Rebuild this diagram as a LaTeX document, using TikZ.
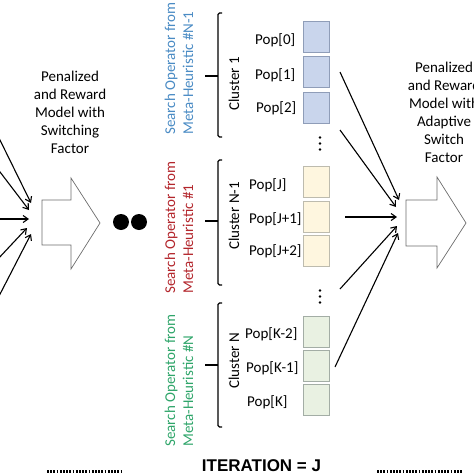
\documentclass[tikz,border=0pt]{standalone}
\usepackage{fontspec}
\setmainfont{Carlito}
\newfontfamily\iterfont{Liberation Sans}
\usetikzlibrary{arrows.meta}
\definecolor{bluefill}{HTML}{C9D5EC}
\definecolor{blueline}{HTML}{8F9DB8}
\definecolor{yelfill}{HTML}{FEF6DF}
\definecolor{yelline}{HTML}{BDBBAE}
\definecolor{grnfill}{HTML}{E9F1E2}
\definecolor{grnline}{HTML}{A3ADA5}
\definecolor{txtblue}{HTML}{4A8BC4}
\definecolor{txtred}{HTML}{B3262C}
\definecolor{txtgreen}{HTML}{2FA56A}
\tikzset{
  every node/.style={font=\fontsize{15}{18}\selectfont, inner sep=0pt},
  cell/.style={draw=#1line, fill=#1fill, line width=0.9pt, minimum width=26pt, minimum height=31pt},
  poplabel/.style={anchor=west},
  clusterlabel/.style={rotate=90},
  oplabel/.style={rotate=90, anchor=west, align=left, text=#1},
  bigarrow/.style={draw=gray!85!black, line width=0.7pt},
  conn/.style={line width=1.1pt, -{Straight Barb[length=5pt,width=7pt]}},
  brace/.style={line width=1.3pt, rounded corners=1.5pt},
  smalldot/.style={circle, fill=black, minimum size=2.6pt},
  bigdot/.style={circle, fill=black, minimum size=16pt},
  dotline/.style={line width=3pt, dash pattern=on 1.8pt off 1.4pt}
}
\begin{document}
\begin{tikzpicture}[x=1pt,y=-1pt]
\useasboundingbox (0,0) rectangle (474,474);
\clip (0,0) rectangle (474,474);

% model texts
\node[align=center] (leftmodel) at (70,112) {Penalized\\and Reward\\Model with\\Switching\\Factor};
\node[align=center] (rightmodel) at (444,112) {Penalized\\and Reward\\Model with\\Adaptive\\Switch\\Factor};

% hollow arrows
\draw[bigarrow] (42,200) -- (71,200) -- (71,178) -- (100,223) -- (71,269) -- (71,245) -- (42,245) -- cycle;
\draw[bigarrow] (406,200) -- (437,200) -- (437,177) -- (466,223) -- (437,268) -- (437,246) -- (406,246) -- cycle;

% big dots
\node[bigdot] (d1) at (121,222) {};
\node[bigdot] (d2) at (139,222) {};

% left incoming arrows
\coordinate (ls1) at (-3,134);
\coordinate (ls2) at (-3,168);
\coordinate (ls3) at (-3,219);
\coordinate (ls4) at (-3,260);
\coordinate (ls5) at (-3,300);
\coordinate (lt1) at (31,203);
\coordinate (lt2) at (29,210);
\coordinate (lt3) at (29,219);
\coordinate (lt4) at (27,228);
\coordinate (lt5) at (31,234);
\foreach \i in {1,...,5} \draw[conn] (ls\i) -- (lt\i);

% operator labels
\node[oplabel=txtblue] (op1) at (179,135) {Search Operator from\\Meta-Heuristic \#N-1};
\node[oplabel=txtred] (op2) at (179,294) {Search Operator from\\Meta-Heuristic \#1};
\node[oplabel=txtgreen] (op3) at (179,447) {Search Operator from\\Meta-Heuristic \#N};

% braces
\draw[brace] (222,13) -- (218,13) -- (218,137) -- (222,137);
\draw[brace] (205,76) -- (218,76);
\draw[brace] (222,160) -- (218,160) -- (218,285) -- (222,285);
\draw[brace] (205,221) -- (218,221);
\draw[brace] (222,303) -- (218,303) -- (218,427) -- (222,427);
\draw[brace] (205,365) -- (218,365);

% cluster labels
\node[clusterlabel] (c1) at (234,84) {Cluster 1};
\node[clusterlabel] (c2) at (234,216) {Cluster N-1};
\node[clusterlabel] (c3) at (234,361) {Cluster N};

% cells
\node[cell=blue] (b0) at (316.5,37) {};
\node[cell=blue] (b1) at (316.5,72) {};
\node[cell=blue] (b2) at (316.5,107.5) {};
\node[cell=yel] (y0) at (316.5,182) {};
\node[cell=yel] (y1) at (316.5,216.5) {};
\node[cell=yel] (y2) at (316.5,251) {};
\node[cell=grn] (g0) at (316,331.5) {};
\node[cell=grn] (g1) at (316,365.5) {};
\node[cell=grn] (g2) at (316,399.5) {};

% labels
\node[poplabel] (lb0) at (255,40) {Pop[0]};
\node[poplabel] (lb1) at (255,75) {Pop[1]};
\node[poplabel] (lb2) at (256,108) {Pop[2]};
\node[poplabel] (ly0) at (249,185) {Pop[J]};
\node[poplabel] (ly1) at (249,219) {Pop[J+1]};
\node[poplabel] (ly2) at (249,251) {Pop[J+2]};
\node[poplabel] (lg0) at (245,334) {Pop[K-2]};
\node[poplabel] (lg1) at (246,368) {Pop[K-1]};
\node[poplabel] (lg2) at (247,402) {Pop[K]};

% vertical ellipses
\foreach \yy [count=\k] in {137.5,143.5,149.5} \node[smalldot] (va\k) at (320,\yy) {};
\foreach \yy [count=\k] in {290.5,296.5,302.5} \node[smalldot] (vb\k) at (320,\yy) {};

% right incoming arrows
\coordinate (rs1) at (340,72);
\coordinate (rs2) at (340,130);
\coordinate (rs3) at (345,217);
\coordinate (rs4) at (340,289);
\coordinate (rs5) at (335,367);
\coordinate (rt1) at (399,200);
\coordinate (rt2) at (396,207);
\coordinate (rt3) at (397,217);
\coordinate (rt4) at (397,226);
\coordinate (rt5) at (398,233);
\foreach \i in {1,...,5} \draw[conn] (rs\i) -- (rt\i);

% bottom
\node[font=\iterfont\bfseries\fontsize{17}{20}\selectfont] (iter) at (261.5,466) {ITERATION = J};
\coordinate (dl1) at (47,471);
\coordinate (dl2) at (122,471);
\coordinate (dr1) at (377,471);
\coordinate (dr2) at (462,471);
\draw[dotline] (dl1) -- (dl2);
\draw[dotline] (dr1) -- (dr2);
\end{tikzpicture}
\end{document}
